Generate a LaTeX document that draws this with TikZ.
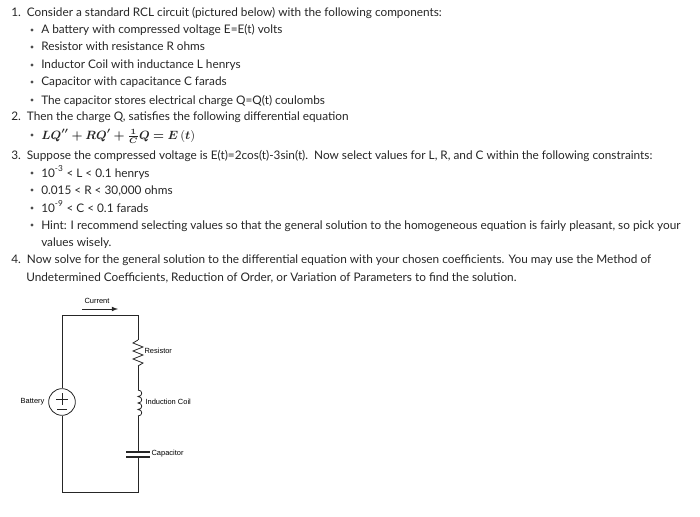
\documentclass[tikz,border=0pt]{standalone}
\usepackage{fontspec}
\usepackage{amsmath,bm}
\setmainfont{Lato}
\newfontfamily\lab{Liberation Sans}
\begin{document}
\begin{tikzpicture}[x=0.75pt,y=-0.75pt,
  txt/.style={anchor=base west,inner sep=0pt,font=\fontsize{8.85pt}{11pt}\selectfont,text=black!85},
  bul/.style={circle,fill=black!70,inner sep=0pt,minimum size=2.5pt},
  lbl/.style={inner sep=1pt,font=\lab\fontsize{5.6pt}{6pt}\selectfont},
  wire/.style={line width=0.6pt,black!85}]
\useasboundingbox (0,0) rectangle (700,517);
% text lines
\node[txt] (n1) at (11,17) {1.\ \ Consider a standard RCL circuit (pictured below) with the following components:};
\node[bul] (b1) at (32,30) {}; \node[txt] (t1) at (41,34) {A battery with compressed voltage E=E(t) volts};
\node[bul] (b2) at (32,47) {}; \node[txt] (t2) at (41,51) {Resistor with resistance R ohms};
\node[bul] (b3) at (32,65) {}; \node[txt] (t3) at (41,69) {Inductor Coil with inductance L henrys};
\node[bul] (b4) at (32,82) {}; \node[txt] (t4) at (41,86) {Capacitor with capacitance C farads};
\node[bul] (b5) at (32,100) {}; \node[txt] (t5) at (41,104) {The capacitor stores electrical charge Q=Q(t) coulombs};
\node[txt] (n2) at (11,121) {2.\ \ Then the charge Q, satisfies the following differential equation};
\node[bul] (b6) at (32,135) {}; \node[txt] (t6) at (41,139) {$\bm{LQ''+RQ'+\tfrac{1}{C}Q=E\left(t\right)}$};
\node[txt] (n3) at (11,160) {3.\ \ Suppose the compressed voltage is E(t)=2cos(t)-3sin(t).\ \ Now select values for L, R, and C within the following constraints:};
\node[bul] (b7) at (32,173) {}; \node[txt] (t7) at (41,177) {10\textsuperscript{-3} < L < 0.1 henrys};
\node[bul] (b8) at (32,190) {}; \node[txt] (t8) at (41,194) {0.015 < R < 30,000 ohms};
\node[bul] (b9) at (32,208) {}; \node[txt] (t9) at (41,212) {10\textsuperscript{-9} < C < 0.1 farads};
\node[bul] (b10) at (32,225) {}; \node[txt] (t10) at (41,229) {Hint: I recommend selecting values so that the general solution to the homogeneous equation is fairly pleasant, so pick your};
\node[txt] (t11) at (41,246) {values wisely.};
\node[txt] (n4) at (11,263) {4.\ \ Now solve for the general solution to the differential equation with your chosen coefficients. You may use the Method of};
\node[txt] (t12) at (26,281) {Undetermined Coefficients, Reduction of Order, or Variation of Parameters to find the solution.};
% circuit
\coordinate (tl) at (62,315); \coordinate (tr) at (138,315);
\coordinate (bl) at (62,492); \coordinate (br) at (138,492);
\node[circle,draw,wire,minimum size=20pt,inner sep=0pt] (bat) at (62,402) {};
\draw[wire] (56,399)--(68,399) (62,393)--(62,405) (57,409)--(67,409);
\coordinate (r1) at (138,340); \coordinate (r2) at (138,366);
\coordinate (l1) at (138,390); \coordinate (l2) at (138,416);
\coordinate (c1) at (138,452); \coordinate (c2) at (138,457);
\draw[wire] (bat.north)--(tl)--(tr)--(r1);
\draw[wire] (r1)--(133,343)--(143,347)--(133,351)--(143,355)--(133,359)--(143,363)--(r2);
\draw[wire] (r2)--(l1);
\draw[wire] (l1) .. controls (143,390) and (143,396.5) .. (138,396.5)
  .. controls (143,396.5) and (143,403) .. (138,403)
  .. controls (143,403) and (143,409.5) .. (138,409.5)
  .. controls (143,409.5) and (143,416) .. (l2);
\draw[wire] (l2)--(c1);
\draw[wire,line width=1pt] (126,452)--(150,452) (126,457)--(150,457);
\draw[wire] (c2)--(br)--(bl)--(bat.south);
\draw[wire,-latex] (82,309)--(118,309);
\node[lbl] (lc) at (97,301) {Current};
\node[lbl,anchor=west] (lr) at (143,351) {Resistor};
\node[lbl,anchor=west] (li) at (144,402) {Induction Coil};
\node[lbl,anchor=west] (lcap) at (150,454) {Capacitor};
\node[lbl,anchor=east] (lb) at (46,402) {Battery};
\end{tikzpicture}
\end{document}
